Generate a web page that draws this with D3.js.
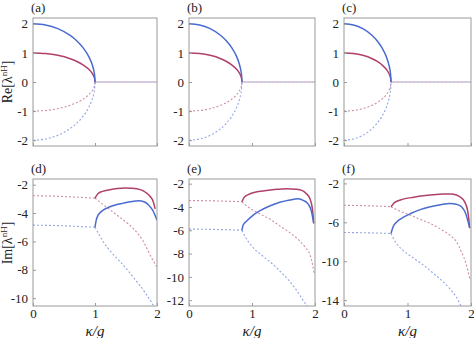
<!DOCTYPE html>
<html><head><meta charset="utf-8">
<script src="https://cdn.jsdelivr.net/npm/d3@7"></script>
<style>body{margin:0;background:#fff}</style>
</head><body>
<svg id="c" width="474" height="338"></svg>
<script>
// ---------- data ----------
const panelLabels = ["(a)","(b)","(c)","(d)","(e)","(f)"];
const reTicks = [2,1,0,-1,-2];
const imTicks = [[-2,-4,-6,-8,-10],[-2,-4,-6,-8,-10,-12],[-2,-6,-10,-14]];
const xTicks = [0,1,2];
const imDomains = [[-10.55,-1.6],[-12.5,-1.6],[-14.6,-1.55]];
const epKappa = [1.0, 0.84, 0.74];

// Re parts before the exceptional point (kappa samples per panel)
const reKappaA = [0,0.2,0.4,0.6,0.7,0.8,0.9,0.95,0.98,0.995,1.0];
const reKappaB = [0,0.168,0.336,0.504,0.588,0.672,0.756,0.798,0.823,0.836,0.84];
const reKappaC = [0,0.148,0.296,0.444,0.518,0.592,0.666,0.703,0.725,0.736,0.74];
const reBluePos = [2,1.96,1.833,1.6,1.428,1.2,0.872,0.624,0.398,0.2,0];
const reRedPos  = [1,0.98,0.917,0.8,0.714,0.6,0.436,0.312,0.199,0.1,0];
const reBlueNeg = [-2,-1.96,-1.833,-1.6,-1.428,-1.2,-0.872,-0.624,-0.398,-0.2,0];
const reRedNeg  = [-1,-0.98,-0.917,-0.8,-0.714,-0.6,-0.436,-0.312,-0.199,-0.1,0];

// Im parts before EP
const imPreKappaD = [0,0.25,0.5,0.75,1.0];
const imPreKappaE = [0,0.21,0.42,0.63,0.84];
const imPreKappaF = [0,0.185,0.37,0.555,0.74];
const imPreRedD  = [-2.78,-2.8,-2.84,-2.89,-2.95];
const imPreBlueD = [-4.85,-4.87,-4.9,-4.95,-5.0];
const imPreRedE  = [-3.45,-3.46,-3.48,-3.51,-3.55];
const imPreBlueE = [-5.9,-5.91,-5.93,-5.96,-6.0];
const imPreRedF  = [-4.25,-4.27,-4.3,-4.34,-4.4];
const imPreBlueF = [-7.05,-7.06,-7.08,-7.11,-7.15];

// Im parts after EP  [kappa, value]
const imRedSolidD = [[1.0,-2.95],[1.05,-2.62],[1.12,-2.47],[1.24,-2.35],[1.36,-2.27],[1.48,-2.23],[1.6,-2.25],[1.73,-2.35],[1.82,-2.55],[1.89,-2.83],[1.94,-3.2],[1.97,-3.7]];
const imBlueSolidD = [[1.0,-5.0],[1.02,-4.5],[1.05,-4.15],[1.1,-3.9],[1.19,-3.65],[1.3,-3.47],[1.46,-3.3],[1.6,-3.18],[1.7,-3.13],[1.8,-3.22],[1.86,-3.41],[1.93,-3.8],[2.0,-4.5]];
const imRedDashD = [[1.0,-2.95],[1.1,-3.3],[1.24,-3.76],[1.4,-4.3],[1.56,-4.85],[1.7,-5.5],[1.78,-6.0],[1.86,-6.7],[1.93,-7.3],[2.0,-7.8]];
const imBlueDashD = [[1.0,-5.0],[1.05,-5.4],[1.13,-6.0],[1.25,-6.7],[1.4,-7.4],[1.55,-8.15],[1.67,-8.82],[1.76,-9.3],[1.83,-9.76],[1.9,-10.2],[1.95,-10.6]];

const imRedSolidE = [[0.84,-3.55],[0.88,-3.15],[0.97,-2.87],[1.1,-2.68],[1.23,-2.58],[1.4,-2.48],[1.55,-2.43],[1.7,-2.48],[1.79,-2.58],[1.86,-2.85],[1.92,-3.3],[1.96,-4.2],[1.98,-5.4]];
const imBlueSolidE = [[0.84,-6.0],[0.86,-5.55],[0.92,-5.19],[1.02,-4.7],[1.13,-4.32],[1.28,-3.92],[1.44,-3.6],[1.6,-3.4],[1.73,-3.3],[1.82,-3.45],[1.89,-3.74],[1.94,-4.3],[1.98,-5.4]];
const imRedDashE = [[0.84,-3.55],[0.95,-4.05],[1.13,-4.6],[1.3,-5.1],[1.44,-5.62],[1.6,-6.2],[1.76,-6.93],[1.85,-7.5],[1.92,-8.1],[1.96,-8.9],[1.99,-9.8]];
const imBlueDashE = [[0.84,-6.0],[0.92,-6.8],[1.02,-7.5],[1.18,-8.25],[1.34,-8.96],[1.47,-9.65],[1.6,-10.4],[1.7,-11.1],[1.79,-11.85],[1.86,-12.4],[1.89,-12.6]];

const imRedSolidF = [[0.74,-4.4],[0.8,-3.95],[0.93,-3.62],[1.1,-3.42],[1.25,-3.28],[1.4,-3.18],[1.56,-3.1],[1.68,-3.1],[1.77,-3.2],[1.84,-3.45],[1.9,-3.9],[1.95,-4.9],[1.98,-6.6]];
const imBlueSolidF = [[0.74,-7.15],[0.77,-6.5],[0.83,-5.96],[0.93,-5.5],[1.05,-5.1],[1.2,-4.7],[1.36,-4.41],[1.52,-4.2],[1.67,-4.06],[1.77,-4.15],[1.85,-4.41],[1.91,-5.0],[1.98,-6.6]];
const imRedDashF = [[0.74,-4.4],[0.88,-4.85],[1.05,-5.27],[1.2,-5.7],[1.36,-6.12],[1.52,-6.7],[1.67,-7.33],[1.77,-8.0],[1.85,-9.05],[1.92,-10.2],[1.98,-11.8]];
const imBlueDashF = [[0.74,-7.15],[0.83,-8.2],[0.93,-8.88],[1.1,-9.7],[1.25,-10.4],[1.4,-11.2],[1.56,-12.1],[1.67,-12.85],[1.77,-13.7],[1.85,-14.7]];

// ---------- layout ----------
const FONT = "'Liberation Serif', 'Times New Roman', 'DejaVu Serif', serif";
const BLUE = "#4a6bd0", RED = "#b0406b";
const cols = [[33,157],[189,315],[344,471]];
const rows = [[18,146],[179,306]];
const svg = d3.select("#c");
const line = d3.line().curve(d3.curveMonotoneX);

function zip(k, v){ return k.map((d,i)=>[d, v[i]]); }

const reKappas = [reKappaA, reKappaB, reKappaC];
const imPre = [[imPreKappaD, imPreRedD, imPreBlueD],[imPreKappaE, imPreRedE, imPreBlueE],[imPreKappaF, imPreRedF, imPreBlueF]];
const imPost = [[imRedSolidD, imBlueSolidD, imRedDashD, imBlueDashD],[imRedSolidE, imBlueSolidE, imRedDashE, imBlueDashE],[imRedSolidF, imBlueSolidF, imRedDashF, imBlueDashF]];

function panel(row, col){
  const [x0,x1] = cols[col], [y0,y1] = rows[row];
  const x = d3.scaleLinear().domain([0,2]).range([x0,x1]);
  const y = d3.scaleLinear().domain(row===0 ? [-2.2,2.2] : imDomains[col]).range([y1,y0]);
  const id = "clip"+row+col;
  svg.append("clipPath").attr("id", id).append("rect").attr("x",x0).attr("y",y0).attr("width",x1-x0).attr("height",y1-y0);
  const g = svg.append("g").attr("clip-path", `url(#${id})`);
  const mk = ()=> line.x(d=>x(d[0])).y(d=>y(d[1]));
  const draw = (data, color, dashed) => g.append("path").datum(data)
      .attr("d", mk()).attr("fill","none").attr("stroke", color)
      .attr("stroke-width", dashed ? 1.1 : 1.5)
      .attr("stroke-opacity", dashed ? 0.6 : 1)
      .attr("stroke-dasharray", dashed ? "2,2" : null);
  if(row===0){
    const k = reKappas[col];
    draw(zip(k, reRedNeg), RED, true);
    draw(zip(k, reBlueNeg), BLUE, true);
    draw([[epKappa[col],0],[2,0]], BLUE, true);
    g.append("path").datum([[epKappa[col],0],[2,0]]).attr("d", mk()).attr("fill","none")
      .attr("stroke", RED).attr("stroke-width",1.1).attr("stroke-opacity",0.65)
      .attr("stroke-dasharray","2,2").attr("stroke-dashoffset",2);
    draw(zip(k, reRedPos), RED, false);
    draw(zip(k, reBluePos), BLUE, false);
  } else {
    const [k, r, b] = imPre[col];
    const [rs, bs, rd, bd] = imPost[col];
    draw(rd, RED, true);
    draw(bd, BLUE, true);
    draw(zip(k, r), RED, true);
    draw(zip(k, b), BLUE, true);
    draw(rs, RED, false);
    draw(bs, BLUE, false);
  }
  // frame
  svg.append("rect").attr("x",x0).attr("y",y0).attr("width",x1-x0).attr("height",y1-y0)
    .attr("fill","none").attr("stroke","#9a9a9a").attr("stroke-width",1);
  // y axis
  const yt = row===0 ? reTicks : imTicks[col];
  const ya = svg.append("g").attr("transform",`translate(${x0},0)`)
    .call(d3.axisLeft(y).tickValues(yt).tickSize(-3).tickPadding(5).tickFormat(d=>String(d)));
  ya.select(".domain").remove();
  ya.selectAll(".tick line").attr("stroke","#9a9a9a");
  ya.selectAll("text").style("font-size","13px").style("font-family",FONT).attr("fill","#222");
  // x axis
  const xa = svg.append("g").attr("transform",`translate(0,${y1})`)
    .call(d3.axisBottom(x).tickValues(xTicks).tickSize(-3).tickPadding(3).tickFormat(row===0 ? "" : d3.format("d")));
  xa.select(".domain").remove();
  xa.selectAll(".tick line").attr("stroke","#9a9a9a");
  xa.selectAll("text").style("font-size","13px").style("font-family",FONT).attr("fill","#222");
  // panel label
  svg.append("text").attr("x", x0-2).attr("y", y0-6).style("font-size","13px").style("font-family",FONT).attr("fill","#222")
    .text(panelLabels[row*3+col]);
  if(row===1){
    svg.append("text").attr("x",(x0+x1)/2).attr("y",336).attr("text-anchor","middle")
      .style("font-size","15px").style("font-family",FONT).style("font-style","italic").attr("fill","#222")
      .text("\u03BA/g");
  }
}
for(let r=0;r<2;r++) for(let c=0;c<3;c++) panel(r,c);

function ylab(cy, pre){
  const t = svg.append("text").attr("transform",`translate(12,${cy}) rotate(-90)`).attr("text-anchor","middle")
    .style("font-size","14px").style("font-family",FONT).attr("fill","#222");
  t.append("tspan").text(pre+"[\u03BB");
  t.append("tspan").attr("dy",-5).style("font-size","9px").text("nH");
  t.append("tspan").attr("dy",5).text("]");
}
ylab(82, "Re");
ylab(243, "Im");
</script>
</body></html>
